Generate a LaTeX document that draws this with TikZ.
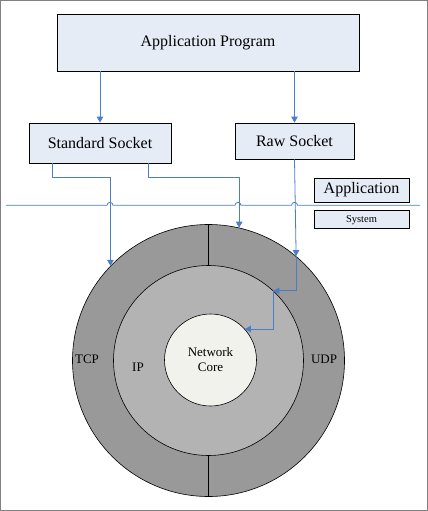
\documentclass[tikz,border=0pt]{standalone}
\usepackage{fontspec}
\setmainfont{Liberation Serif}
\usetikzlibrary{positioning}
\usetikzlibrary{calc}
\usetikzlibrary{arrows.meta}
\definecolor{boxfill}{HTML}{E6ECF6}
\definecolor{linkblue}{HTML}{4A7EC8}
\definecolor{outerring}{HTML}{999999}
\definecolor{middlering}{HTML}{B3B3B3}
\definecolor{corefill}{HTML}{F1F2EB}
\tikzset{%
  link/.style = {-{Triangle[length=6pt,width=6.5pt]},linkblue,line width=0.8pt},
  bus/.style = {linkblue,line width=0.8pt},
  blk/.style = {rectangle,draw,fill=boxfill,line width=0.8pt,inner sep=0pt,
        font=\fontsize{16}{19}\selectfont},
  ring/.style = {circle,draw,line width=0.6pt,inner sep=0pt},
  lbl/.style = {font=\fontsize{13}{15.6}\selectfont}
}

\begin{document}
\begin{tikzpicture}[x=1pt,y=-1pt]
    \useasboundingbox (0,0) rectangle (428,511);
    \draw[gray,line width=1.2pt] (0.6,0.6) rectangle (427.4,510.4);

    % layers of the stack
    \node[ring,fill=outerring,minimum size=272pt] (tcp) at (208.5,360.5) {};
    \node[ring,fill=middlering,minimum size=190pt] (ip) at (208.5,360.5) {};
    \node[ring,fill=corefill,minimum size=92pt] (core) at (210.5,360) {};
    \draw[line width=0.8pt] (tcp.north) -- (ip.north);
    \draw[line width=0.8pt] (ip.south) -- (tcp.south);
    \node[lbl,align=center] (corelbl) at (210.5,359.5) {Network\\Core};
    \node[lbl] (tcplbl) at (87,359) {TCP};
    \node[lbl] (iplbl) at (138,367) {IP};
    \node[lbl] (udplbl) at (324,359) {UDP};

    % boxes
    \node[blk,minimum width=302pt,minimum height=57pt] (prog) at (208,42.5) {Application Program};
    \node[blk,minimum width=142pt,minimum height=40pt] (std) at (100,143) {Standard Socket};
    \node[blk,minimum width=119pt,minimum height=36pt] (raw) at (294.5,141) {Raw Socket};
    \node[blk,minimum width=95pt,minimum height=24pt] (app) at (361.5,190) {Application};
    \node[blk,minimum width=95pt,minimum height=18pt,font=\fontsize{10.5}{12}\selectfont,
        below=8pt of app] (sys) {System};

    % boundary between user and kernel space
    \coordinate (busL) at (6,205.3);
    \coordinate (busR) at (420,205.3);
    \draw[bus] (busL) -- (107,205.3) arc[start angle=180,end angle=0,radius=3pt]
        -- (235,205.3) arc[start angle=180,end angle=0,radius=3pt]
        -- (291.5,205.3) arc[start angle=180,end angle=0,radius=3pt] -- (busR);

    % connectors
    \draw[link] (prog.south -| std) -- (std.north);
    \draw[link] (prog.south -| raw) -- (raw.north);
    \draw[link] ([xshift=-48pt]std.south) -- ++(0,14) -| (tcp.136.5);
    \draw[link] ([xshift=48pt]std.south) -- ++(0,14) -| (tcp.77.5);
    \draw[link] (raw.south) -- (tcp.50.8);
    \draw[link] (tcp.50.8) |- (ip.47);
    \draw[link] (ip.47) |- (core.42.4);
\end{tikzpicture}
\end{document}
